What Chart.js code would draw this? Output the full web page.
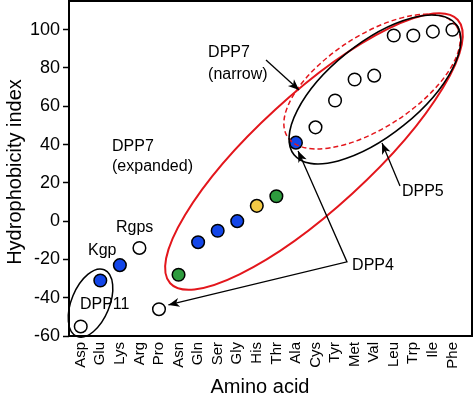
<!DOCTYPE html>
<html lang="en">
<head>
  <meta charset="UTF-8" />
  <title>Hydrophobicity index</title>
  <script src="https://cdn.jsdelivr.net/npm/chart.js"></script>
  <style>
    body { margin: 0; background: #fff; }
    canvas { display: block; }
  </style>
</head>
<body>
  <canvas id="chart" width="474" height="399"></canvas>
  <script>
    const categories = ['Asp', 'Glu', 'Lys', 'Arg', 'Pro', 'Asn', 'Gln', 'Ser', 'Gly', 'His',
                        'Thr', 'Ala', 'Cys', 'Tyr', 'Met', 'Val', 'Leu', 'Trp', 'Ile', 'Phe'];
    const values = [-55, -31, -23, -14, -46, -28, -11, -5, 0, 8,
                    13, 41, 49, 63, 74, 76, 97, 97, 99, 100];
    const W = '#ffffff', B = '#1346e8', G = '#2e9b3e', Y = '#f3c945';
    const fills = [W, B, B, W, W, G, B, B, B, Y,
                   G, B, W, W, W, W, W, W, W, W];
    const yTicks = [-60, -40, -20, 0, 20, 40, 60, 80, 100];

    const FONT = '"Liberation Sans", Arial, sans-serif';

    // annotation shapes, centres in data units, radii in px
    const ellipses = [
      { x: 11.92, y: 36.4, rx: 195, ry: 57, angle: 42.5, color: '#e3161c', width: 2 },
      { x: 14.89, y: 72.9, rx: 101, ry: 46, angle: 33.2, color: '#e3161c', width: 1.5, dash: [5, 3] },
      { x: 15.04, y: 68.8, rx: 104, ry: 46, angle: 38.9, color: '#000', width: 1.6 },
      { x: 0.5, y: -42.8, rx: 36, ry: 19, angle: 67.6, color: '#000', width: 1.5 }
    ];
    const arrows = [
      { pts: [[9.47, 84.2], [11.16, 68.5]], start: false, end: true },
      { pts: [[16.32, 18.4], [15.40, 40.8]], start: false, end: true },
      { pts: [[11.11, 36.6], [13.61, -21.3], [4.48, -43.8]], start: true, end: true }
    ];
    const labels = [
      { text: 'DPP7', x: 6.51, y: 87.8 },
      { text: '(narrow)', x: 6.51, y: 76.3 },
      { text: 'DPP7', x: 1.60, y: 38.7 },
      { text: '(expanded)', x: 1.60, y: 28.3 },
      { text: 'DPP5', x: 16.42, y: 15.2 },
      { text: 'DPP4', x: 13.87, y: -23.4 },
      { text: 'Kgp', x: 0.37, y: -15.6 },
      { text: 'Rgps', x: 1.80, y: -3.6 },
      { text: 'DPP11', x: -0.04, y: -43.8 }
    ];

    function arrowHead(ctx, x0, y0, x1, y1) {
      const a = Math.atan2(y1 - y0, x1 - x0);
      const len = 11, half = 4.5, notch = 3;
      ctx.save();
      ctx.translate(x1, y1);
      ctx.rotate(a);
      ctx.beginPath();
      ctx.moveTo(0, 0);
      ctx.lineTo(-len, -half);
      ctx.lineTo(-len + notch, 0);
      ctx.lineTo(-len, half);
      ctx.closePath();
      ctx.fill();
      ctx.restore();
    }

    const overlay = {
      id: 'overlay',
      afterDatasetsDraw(chart) {
        const { ctx, chartArea: area, scales: { x, y } } = chart;
        const px = v => x.getPixelForValue(v);
        const py = v => y.getPixelForValue(v);

        ellipses.forEach(e => {
          ctx.save();
          ctx.beginPath();
          ctx.ellipse(px(e.x), py(e.y), e.rx, e.ry, -e.angle * Math.PI / 180, 0, 2 * Math.PI);
          ctx.strokeStyle = e.color;
          ctx.lineWidth = e.width;
          ctx.setLineDash(e.dash || []);
          ctx.stroke();
          ctx.restore();
        });

        ctx.save();
        ctx.strokeStyle = '#000';
        ctx.fillStyle = '#000';
        ctx.lineWidth = 1.3;
        arrows.forEach(a => {
          const p = a.pts.map(q => [px(q[0]), py(q[1])]);
          ctx.beginPath();
          ctx.moveTo(p[0][0], p[0][1]);
          for (let i = 1; i < p.length; i++) ctx.lineTo(p[i][0], p[i][1]);
          ctx.stroke();
          const n = p.length;
          if (a.end) arrowHead(ctx, p[n - 2][0], p[n - 2][1], p[n - 1][0], p[n - 1][1]);
          if (a.start) arrowHead(ctx, p[1][0], p[1][1], p[0][0], p[0][1]);
        });

        ctx.font = '16px ' + FONT;
        ctx.textAlign = 'left';
        ctx.textBaseline = 'middle';
        labels.forEach(l => ctx.fillText(l.text, px(l.x), py(l.y)));

        // frame
        ctx.lineWidth = 2;
        ctx.strokeRect(area.left, area.top, area.right - area.left, area.bottom - area.top);

        // axis titles
        ctx.font = '20px ' + FONT;
        ctx.textAlign = 'center';
        ctx.fillText('Amino acid', 260, 387);
        ctx.translate(15, 172);
        ctx.rotate(-Math.PI / 2);
        ctx.fillText('Hydrophobicity index', 0, 0);
        ctx.restore();
      }
    };

    new Chart(document.getElementById('chart'), {
      type: 'scatter',
      data: {
        datasets: [{
          data: categories.map((c, i) => ({ x: i, y: values[i] })),
          pointRadius: 6.3,
          pointHoverRadius: 6.3,
          pointBackgroundColor: fills,
          pointBorderColor: '#000',
          pointBorderWidth: 1.5
        }]
      },
      options: {
        responsive: false,
        animation: false,
        devicePixelRatio: 1,
        layout: { autoPadding: false, padding: { top: 1, right: 2, left: 0, bottom: 0 } },
        plugins: { legend: { display: false }, tooltip: { enabled: false } },
        scales: {
          x: {
            type: 'linear',
            min: -0.6,
            max: 20,
            afterFit: s => { s.height = 63; s.paddingLeft = 0; s.paddingRight = 0; },
            afterBuildTicks: s => { s.ticks = categories.map((c, i) => ({ value: i })); },
            grid: { display: false, drawTicks: false },
            border: { display: false },
            ticks: {
              autoSkip: false,
              maxRotation: 90,
              minRotation: 90,
              padding: 6,
              color: '#000',
              font: { family: FONT, size: 15 },
              callback: v => categories[v]
            }
          },
          y: {
            min: -60,
            max: 115,
            afterFit: s => { s.width = 69; s.paddingTop = 0; s.paddingBottom = 0; },
            afterBuildTicks: s => { s.ticks = yTicks.map(v => ({ value: v })); },
            grid: {
              drawOnChartArea: false,
              drawTicks: true,
              tickLength: 6,
              tickColor: '#000',
              tickWidth: 1.5
            },
            border: { display: false },
            ticks: {
              padding: 3,
              color: '#000',
              font: { family: FONT, size: 18 }
            }
          }
        }
      },
      plugins: [overlay]
    });
  </script>
</body>
</html>
